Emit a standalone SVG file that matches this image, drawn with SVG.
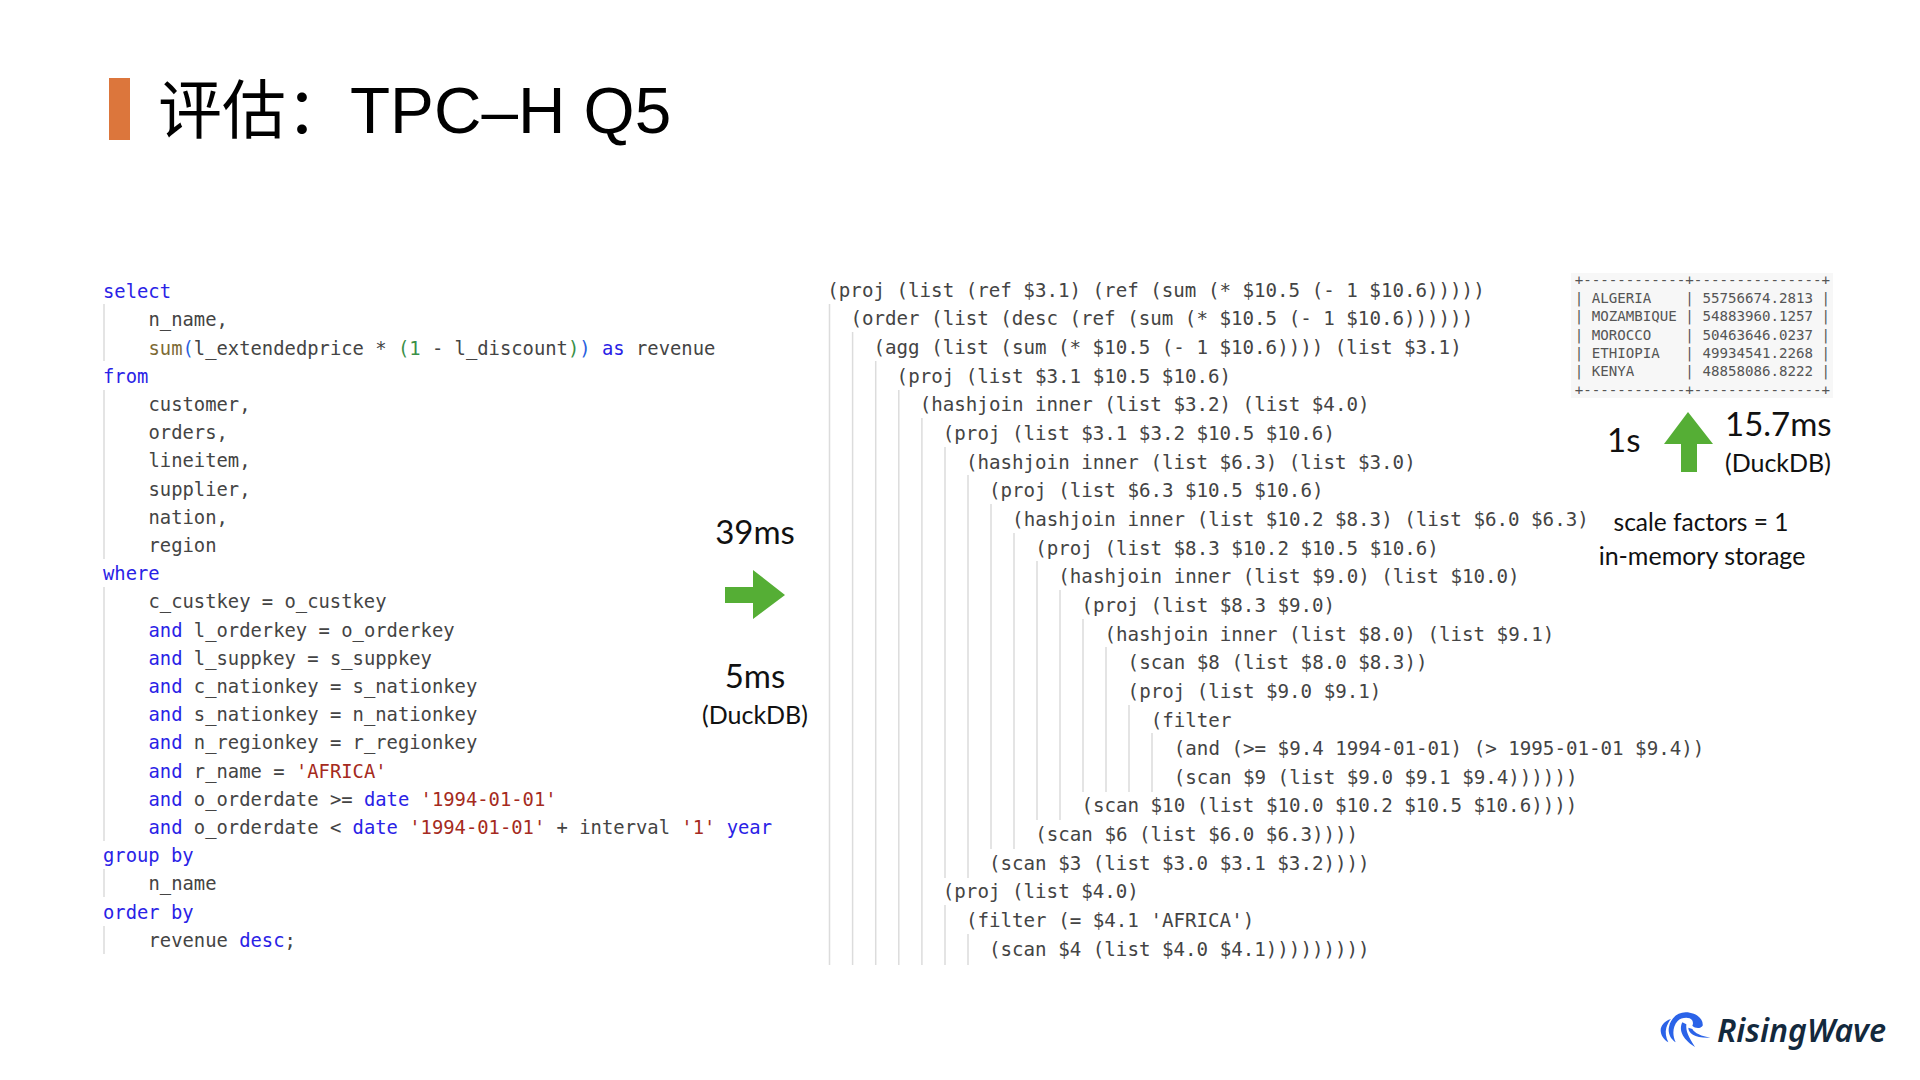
<svg xmlns="http://www.w3.org/2000/svg" width="1920" height="1080" viewBox="0 0 1920 1080">
<style>
text{white-space:pre}
.c{font-family:"DejaVu Sans Mono","Liberation Mono",monospace;font-size:18.83px;fill:#444}
.p{font-family:"DejaVu Sans Mono","Liberation Mono",monospace;font-size:19.16px;fill:#444}
.t{font-family:"DejaVu Sans Mono","Liberation Mono",monospace;font-size:14.15px;fill:#555}
.k{fill:#2a22e6}.f{fill:#7d6a35}.b{fill:#2a5fe0}.g{fill:#3a9048}.s{fill:#a52a20}
.l{font-family:Lato,"Noto Sans",sans-serif;fill:#111}
.gd{stroke:#dcdcdc;stroke-width:1.5;fill:none}
</style>
<rect width="1920" height="1080" fill="#fff"/>
<g id="title">
<rect x="109" y="78" width="21" height="62" fill="#dc763c"/>
<text x="158" y="133" font-size="64" fill="#000" font-family="'Liberation Sans','Noto Sans CJK SC',sans-serif">评估：</text>
<text x="350" y="133" font-size="65.7" fill="#000" font-family="'Liberation Sans','Noto Sans CJK SC',sans-serif">TPC–H Q5</text>
</g>
<g id="sql-guides" class="gd">
<path d="M104 304V361M104 390V559M104 587V841M104 869V897M104 926V954"/>
</g>
<g transform="translate(0 .8)" id="sql">
<text class="c k" x="103" y="297.5">select</text>
<text class="c" x="148.5" y="325.7">n_name,</text>
<text class="c" x="148.5" y="353.9"><tspan class="f">sum</tspan><tspan class="b">(</tspan>l_extendedprice * <tspan class="g">(1</tspan> - l_discount<tspan class="g">)</tspan><tspan class="b">)</tspan> <tspan class="k">as</tspan> revenue</text>
<text class="c k" x="103" y="382.1">from</text>
<text class="c" x="148.5" y="410.3">customer,</text>
<text class="c" x="148.5" y="438.5">orders,</text>
<text class="c" x="148.5" y="466.7">lineitem,</text>
<text class="c" x="148.5" y="494.9">supplier,</text>
<text class="c" x="148.5" y="523.1">nation,</text>
<text class="c" x="148.5" y="551.3">region</text>
<text class="c k" x="103" y="579.5">where</text>
<text class="c" x="148.5" y="607.7">c_custkey = o_custkey</text>
<text class="c" x="148.5" y="635.9"><tspan class="k">and</tspan> l_orderkey = o_orderkey</text>
<text class="c" x="148.5" y="664.1"><tspan class="k">and</tspan> l_suppkey = s_suppkey</text>
<text class="c" x="148.5" y="692.3"><tspan class="k">and</tspan> c_nationkey = s_nationkey</text>
<text class="c" x="148.5" y="720.5"><tspan class="k">and</tspan> s_nationkey = n_nationkey</text>
<text class="c" x="148.5" y="748.7"><tspan class="k">and</tspan> n_regionkey = r_regionkey</text>
<text class="c" x="148.5" y="776.9"><tspan class="k">and</tspan> r_name = <tspan class="s">'AFRICA'</tspan></text>
<text class="c" x="148.5" y="805.1"><tspan class="k">and</tspan> o_orderdate &gt;= <tspan class="k">date</tspan> <tspan class="s">'1994-01-01'</tspan></text>
<text class="c" x="148.5" y="833.3"><tspan class="k">and</tspan> o_orderdate &lt; <tspan class="k">date</tspan> <tspan class="s">'1994-01-01'</tspan> + interval <tspan class="s">'1'</tspan> <tspan class="k">year</tspan></text>
<text class="c k" x="103" y="861.5">group by</text>
<text class="c" x="148.5" y="889.7">n_name</text>
<text class="c k" x="103" y="917.9">order by</text>
<text class="c" x="148.5" y="946.1">revenue <tspan class="k">desc</tspan>;</text>
</g>
<g id="plan-guides" class="gd">
<path d="M829.5 304V965M852.6 332V965M875.7 361V965M898.8 390V965M921.9 418V965M945 447V878M945 905V965M968 475V878M968 934V965M991 504V849M1014 533V849M1037 561V820M1060 590V820M1083 619V792M1106 647V792M1129 705V792M1152 733V792"/>
</g>
<g transform="translate(.3 .8)" id="plan">
<text class="p" x="827" y="296">(proj (list (ref $3.1) (ref (sum (* $10.5 (- 1 $10.6)))))</text>
<text class="p" x="850.1" y="324.65">(order (list (desc (ref (sum (* $10.5 (- 1 $10.6))))))</text>
<text class="p" x="873.2" y="353.3">(agg (list (sum (* $10.5 (- 1 $10.6)))) (list $3.1)</text>
<text class="p" x="896.3" y="381.95">(proj (list $3.1 $10.5 $10.6)</text>
<text class="p" x="919.4" y="410.6">(hashjoin inner (list $3.2) (list $4.0)</text>
<text class="p" x="942.5" y="439.25">(proj (list $3.1 $3.2 $10.5 $10.6)</text>
<text class="p" x="965.6" y="467.9">(hashjoin inner (list $6.3) (list $3.0)</text>
<text class="p" x="988.7" y="496.55">(proj (list $6.3 $10.5 $10.6)</text>
<text class="p" x="1011.8" y="525.2">(hashjoin inner (list $10.2 $8.3) (list $6.0 $6.3)</text>
<text class="p" x="1034.9" y="553.85">(proj (list $8.3 $10.2 $10.5 $10.6)</text>
<text class="p" x="1058" y="582.5">(hashjoin inner (list $9.0) (list $10.0)</text>
<text class="p" x="1081.1" y="611.15">(proj (list $8.3 $9.0)</text>
<text class="p" x="1104.2" y="639.8">(hashjoin inner (list $8.0) (list $9.1)</text>
<text class="p" x="1127.3" y="668.45">(scan $8 (list $8.0 $8.3))</text>
<text class="p" x="1127.3" y="697.1">(proj (list $9.0 $9.1)</text>
<text class="p" x="1150.4" y="725.75">(filter</text>
<text class="p" x="1173.5" y="754.4">(and (&gt;= $9.4 1994-01-01) (&gt; 1995-01-01 $9.4))</text>
<text class="p" x="1173.5" y="783.05">(scan $9 (list $9.0 $9.1 $9.4))))))</text>
<text class="p" x="1081.1" y="811.7">(scan $10 (list $10.0 $10.2 $10.5 $10.6))))</text>
<text class="p" x="1034.9" y="840.35">(scan $6 (list $6.0 $6.3))))</text>
<text class="p" x="988.7" y="869">(scan $3 (list $3.0 $3.1 $3.2))))</text>
<text class="p" x="942.5" y="897.65">(proj (list $4.0)</text>
<text class="p" x="965.6" y="926.3">(filter (= $4.1 'AFRICA')</text>
<text class="p" x="988.7" y="954.95">(scan $4 (list $4.0 $4.1)))))))))</text>
</g>
<g id="result-table">
<rect x="1571" y="273" width="262" height="125" fill="#f7f7f7"/>
<text class="t" x="1574.7" y="285">+------------+---------------+</text>
<text class="t" x="1574.7" y="303">| ALGERIA    | 55756674.2813 |</text>
<text class="t" x="1574.7" y="321.3">| MOZAMBIQUE | 54883960.1257 |</text>
<text class="t" x="1574.7" y="339.6">| MOROCCO    | 50463646.0237 |</text>
<text class="t" x="1574.7" y="357.9">| ETHIOPIA   | 49934541.2268 |</text>
<text class="t" x="1574.7" y="376.2">| KENYA      | 48858086.8222 |</text>
<text class="t" x="1574.7" y="395">+------------+---------------+</text>
</g>
<g id="arrow-right"><path d="M725 587H753V570L785 595L753 619V603H725Z" fill="#55ae35"/></g>
<g id="arrow-up"><path d="M1688 412L1713 444H1697V472H1681V444H1664Z" fill="#55ae35"/></g>
<g id="timings">
<text class="l" x="755" y="544" font-size="33" text-anchor="middle">39ms</text>
<text class="l" x="755" y="688" font-size="33" text-anchor="middle">5ms</text>
<text class="l" x="755" y="724" font-size="25" text-anchor="middle">(DuckDB)</text>
<text class="l" x="1607" y="452" font-size="33">1s</text>
<text class="l" x="1725" y="436" font-size="33">15.7ms</text>
<text class="l" x="1725" y="472" font-size="25">(DuckDB)</text>
<text class="l" x="1701" y="531" font-size="24.5" text-anchor="middle">scale factors = 1</text>
<text class="l" x="1702" y="565" font-size="25" text-anchor="middle">in-memory storage</text>
</g>
<g id="logo">
<g transform="translate(1655 1005) scale(.33333)" fill="#2b63e8">
<path d="M48 42C28 48 17 62 17 76C17 90 26 104 40 112C33 98 30 82 34 68C37 58 42 49 48 42Z"/>
<path d="M143 62C146 40 120 22 92 22C66 22 46 42 42 66C38 84 46 102 62 112C52 90 52 66 68 48C76 40 92 36 104 40C114 44 116 56 112 62C120 70 136 72 143 62Z"/>
<path d="M82 52C72 72 78 100 120 126C100 96 92 78 94 58Z"/>
<path d="M100 68C100 84 120 100 166 98C140 94 118 84 112 72Z"/>
</g>
<text x="1717" y="1042" font-family="'Noto Sans',sans-serif" font-size="33" font-weight="600" font-style="italic" fill="#13293d" textLength="169" lengthAdjust="spacingAndGlyphs">RisingWave</text>
</g>
</svg>
